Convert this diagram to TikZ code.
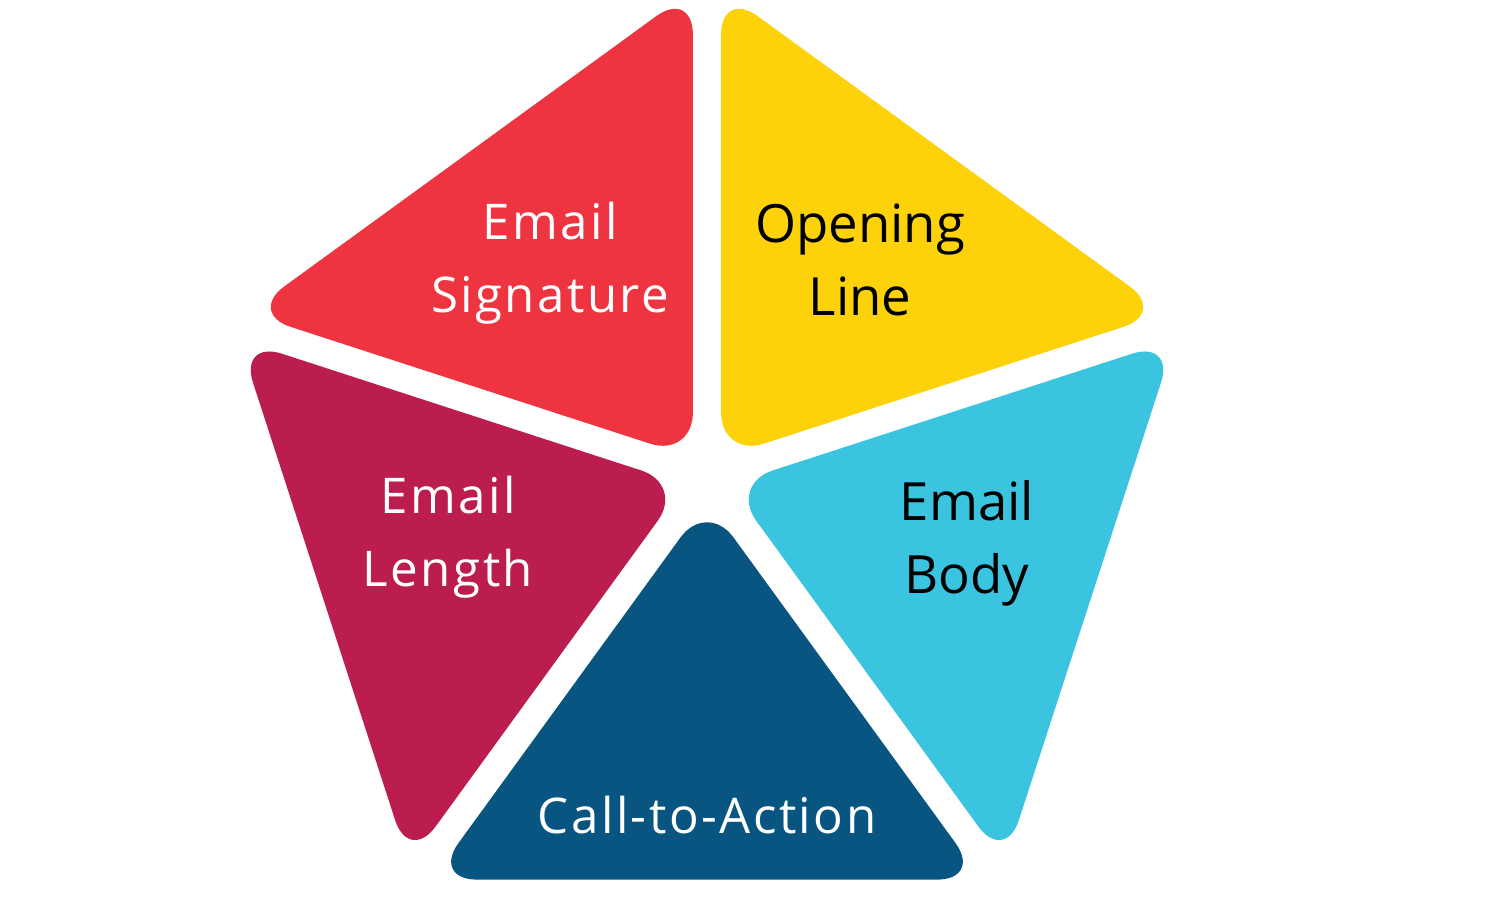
\documentclass[tikz,border=0pt]{standalone}
\usepackage{fontspec}
\setmainfont{Open Sans}
\newfontfamily\spacedfont[LetterSpace=5]{Open Sans}
\usetikzlibrary{calc}

\definecolor{sigred}{HTML}{EE3440}
\definecolor{openyellow}{HTML}{FED20B}
\definecolor{lenred}{HTML}{BB1E4E}
\definecolor{bodycyan}{HTML}{3AC4E0}
\definecolor{ctablue}{HTML}{085582}

\begin{document}
\begin{tikzpicture}[
	wedge/.style={rounded corners=4.5mm},
	lbl/.style={align=center,font=\spacedfont\fontsize{14}{20.8}\selectfont,text=white},
	darklbl/.style={align=center,font=\fontsize{15}{20.8}\selectfont,text=black},
	]
	\useasboundingbox (0,0) rectangle (15,9);
	\coordinate (mid) at (7.07,4.23);
	
	% exploded pentagon: every wedge pushed away from the middle
	\coordinate (sig) at ($(mid)+(126:0.24)$);
	\fill[wedge,fill=sigred] (sig) -- ($(sig)+(90:4.68)$) -- ($(sig)+(162:4.68)$) -- cycle;
	
	\coordinate (open) at ($(mid)+(54:0.24)$);
	\fill[wedge,fill=openyellow] (open) -- ($(open)+(18:4.68)$) -- ($(open)+(90:4.68)$) -- cycle;
	
	\coordinate (len) at ($(mid)+(198:0.24)$);
	\fill[wedge,fill=lenred] (len) -- ($(len)+(162:4.68)$) -- ($(len)+(234:4.68)$) -- cycle;
	
	\coordinate (body) at ($(mid)+(342:0.24)$);
	\fill[wedge,fill=bodycyan] (body) -- ($(body)+(306:4.68)$) -- ($(body)+(18:4.68)$) -- cycle;
	
	\coordinate (cta) at ($(mid)+(270:0.24)$);
	\fill[wedge,fill=ctablue] (cta) -- ($(cta)+(234:4.68)$) -- ($(cta)+(306:4.68)$) -- cycle;
	
	% labels
	\node[lbl] (sigtext) at (5.50,6.37) {Email\\Signature};
	\node[darklbl] (opentext) at (8.60,6.40) {Opening\\Line};
	\node[lbl] (lentext) at (4.48,3.63) {Email\\Length};
	\node[darklbl] (bodytext) at (9.67,3.57) {Email\\Body};
	\node[lbl] (ctatext) at (7.07,0.85) {Call-to-Action};
\end{tikzpicture}
\end{document}
